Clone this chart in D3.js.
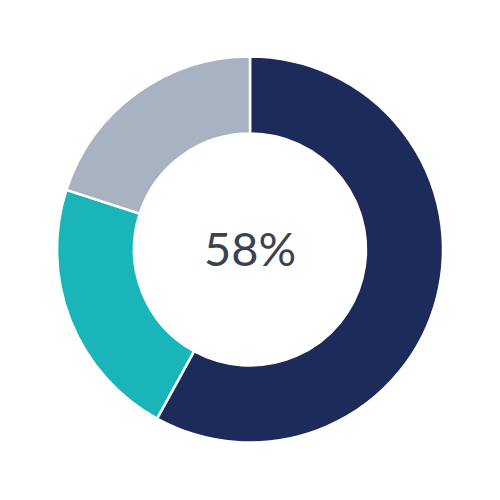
<!DOCTYPE html>
<html>
<head>
<meta charset="utf-8">
<script src="https://cdn.jsdelivr.net/npm/d3@7"></script>
<style>
  body { margin: 0; background: #ffffff; }
</style>
</head>
<body>
<div id="chart"></div>
<script>
// Data
var labels = ["A", "B", "C"];
var values = [58, 22, 20];
var colors = ["#1c2b5a", "#1ab5b8", "#a8b3c1"];
var centerLabel = "58%";

// Sizes
var width = 500;
var height = 500;
var outerRadius = 193;
var innerRadius = 116;

var svg = d3.select("#chart")
  .append("svg")
  .attr("width", width)
  .attr("height", height);

var g = svg.append("g")
  .attr("transform", "translate(" + 250 + "," + 249.5 + ")");

var pie = d3.pie()
  .sort(null)
  .value(function(d) { return d; });

var arc = d3.arc()
  .innerRadius(innerRadius)
  .outerRadius(outerRadius);

// Slices
g.selectAll("path")
  .data(pie(values))
  .enter()
  .append("path")
  .attr("d", arc)
  .attr("fill", function(d, i) { return colors[i]; })
  .attr("stroke", "#ffffff")
  .attr("stroke-width", 2.5);

// Center text
g.append("text")
  .attr("text-anchor", "middle")
  .attr("dy", "0.36em")
  .attr("font-family", "Lato, 'Open Sans', sans-serif")
  .attr("font-size", 47)
  .attr("fill", "#3b4350")
  .text(centerLabel);
</script>
</body>
</html>
